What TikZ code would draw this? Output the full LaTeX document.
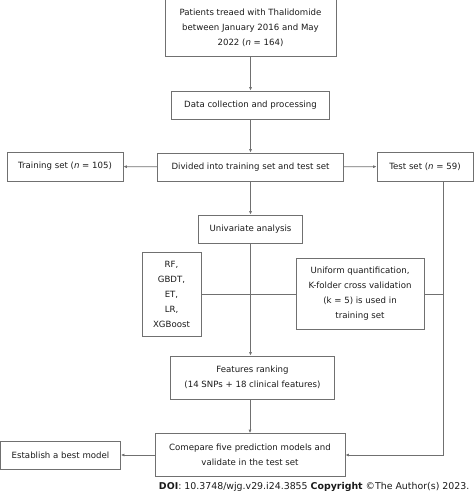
\documentclass[tikz,border=0pt]{standalone}
\usepackage{fontspec}
\setmainfont{DejaVu Sans}
\usetikzlibrary{arrows.meta}
\definecolor{linegray}{HTML}{707070}
\definecolor{textgray}{HTML}{1A1A1A}

\begin{document}
\begin{tikzpicture}[x=1pt, y=-1pt, -{Latex[length=3.5pt,width=3pt]}, color=linegray, line width=0.7pt,
      every node/.append style={font=\fontsize{8.6}{15}\selectfont,text=textgray}]
    \tikzstyle{box} = [draw=linegray,rectangle,align=center,inner sep=0pt]
    \useasboundingbox (0,0) rectangle (474,497);
    % main column
    \node (patients) [box,minimum width=171pt,minimum height=57pt] at (250.5,27.5)
      {Patients treaed with Thalidomide\\between January 2016 and May\\2022 (\textit{n} = 164)};
    \node (collect) [box,minimum width=158pt,minimum height=28pt] at (250.5,105) {Data collection and processing};
    \node (divide) [box,minimum width=186pt,minimum height=28pt] at (250.5,167) {Divided into training set and test set};
    \node (train) [box,minimum width=116pt,minimum height=29pt] at (65,166.5) {Training set (\textit{n} = 105)};
    \node (test) [box,minimum width=96pt,minimum height=29pt] at (425,166.5) {Test set (\textit{n} = 59)};
    \node (univ) [box,minimum width=104pt,minimum height=28pt] at (250.5,229) {Univariate analysis};
    \node (models) [box,minimum width=59pt,minimum height=84pt] at (171.5,294) {RF,\\GBDT,\\ET,\\LR,\\XGBoost};
    \node (quant) [box,minimum width=128pt,minimum height=71pt] at (360,294)
      {Uniform quantification,\\K-folder cross validation\\(k = 5) is used in\\training set};
    \node (rank) [box,minimum width=164pt,minimum height=43pt] at (252.5,377.5)
      {Features ranking\\(14 SNPs + 18 clinical features)};
    \node (compare) [box,minimum width=190pt,minimum height=43pt] at (250,455)
      {Comepare five prediction models and\\validate in the test set};
    \node (best) [box,minimum width=120pt,minimum height=28pt] at (60.5,455) {Establish a best model};
    \node (doi) [anchor=base east,font=\fontsize{9.4}{11}\selectfont] at (473,489)
      {\textbf{DOI}: 10.3748/wjg.v29.i24.3855 \textbf{Copyright} ©The Author(s) 2023.};
    % arrows
    \draw (patients) -- (collect);
    \draw (collect) -- (divide);
    \draw (divide) -- (train);
    \draw (divide) -- (test);
    \draw (divide) -- (univ);
    \draw (univ.south) -- (univ.south |- rank.north);
    \draw (rank.south -| compare) -- (compare);
    \draw (compare) -- (best);
    \draw[-] (models) -- (quant);
    \draw[-] (quant.east) -- ([xshift=18pt]test.south |- quant);
    \draw ([xshift=18pt]test.south) |- (compare.east);
\end{tikzpicture}
\end{document}
